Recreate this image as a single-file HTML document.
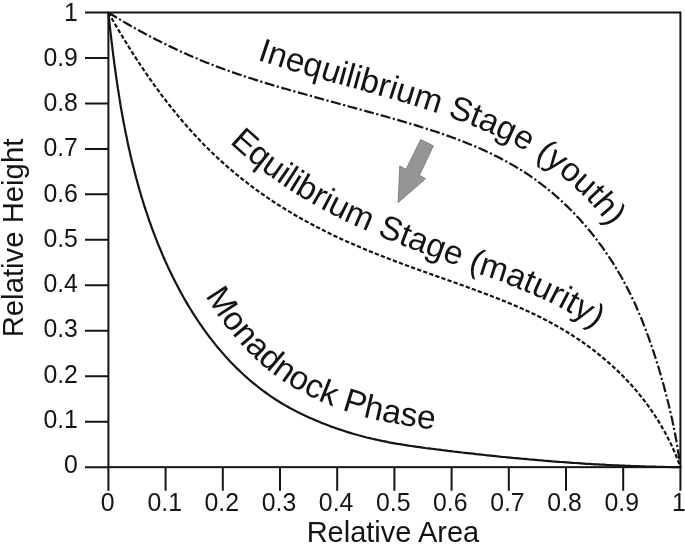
<!DOCTYPE html>
<html><head><meta charset="utf-8"><title>Hypsometric curves</title>
<style>
html,body{margin:0;padding:0;background:#fff;}
svg{display:block;}
text{font-family:"Liberation Sans",Arial,sans-serif;fill:#141414;}
.tk text{font-size:26.5px;}
.ax{font-size:29.3px;}
.cv{font-size:33.4px;}
</style></head><body>
<svg width="685" height="545" viewBox="0 0 685 545">
<rect width="685" height="545" fill="#fff"/>
<g fill="none" stroke="#141414" stroke-width="2">
<rect x="108.4" y="12.5" width="572.0" height="454.65"/>
<path d="M108.40,467.15 V490.8 M108.4,467.15 H85.0 M165.60,467.15 V490.8 M108.4,421.68 H85.0 M222.80,467.15 V490.8 M108.4,376.22 H85.0 M280.00,467.15 V490.8 M108.4,330.75 H85.0 M337.20,467.15 V490.8 M108.4,285.29 H85.0 M394.40,467.15 V490.8 M108.4,239.82 H85.0 M451.60,467.15 V490.8 M108.4,194.36 H85.0 M508.80,467.15 V490.8 M108.4,148.90 H85.0 M566.00,467.15 V490.8 M108.4,103.43 H85.0 M623.20,467.15 V490.8 M108.4,57.96 H85.0 M680.40,467.15 V490.8 M108.4,12.50 H85.0"/>
<path d="M108.4,12.5 L108.7,15.3 L109.0,18.2 L109.3,21.0 L109.6,23.8 L109.9,26.6 L110.2,29.5 L110.5,32.3 L110.9,35.1 L111.2,38.0 L111.5,40.8 L111.9,43.6 L112.2,46.4 L112.5,49.3 L112.9,52.1 L113.2,54.9 L113.6,57.7 L114.0,60.6 L114.3,63.4 L114.7,66.2 L115.1,69.0 L115.5,71.8 L115.9,74.7 L116.3,77.5 L116.7,80.3 L117.1,83.1 L117.5,85.9 L117.9,88.7 L118.4,91.5 L118.8,94.3 L119.3,97.2 L119.7,100.0 L120.2,102.8 L120.6,105.6 L121.1,108.4 L121.6,111.2 L122.1,114.0 L122.6,116.8 L123.1,119.5 L123.6,122.3 L124.2,125.1 L124.7,127.9 L125.3,130.7 L125.8,133.5 L126.4,136.3 L127.0,139.0 L127.5,141.8 L128.1,144.6 L128.7,147.4 L129.4,150.1 L130.0,152.9 L130.6,155.7 L131.3,158.4 L131.9,161.2 L132.6,163.9 L133.3,166.7 L134.0,169.4 L134.7,172.2 L135.4,174.9 L136.1,177.7 L136.9,180.4 L137.6,183.1 L138.4,185.9 L139.1,188.6 L139.9,191.3 L140.7,194.0 L141.5,196.8 L142.4,199.5 L143.2,202.2 L144.0,204.9 L144.9,207.6 L145.8,210.3 L146.7,213.0 L147.6,215.7 L148.5,218.4 L149.4,221.1 L150.4,223.7 L151.3,226.4 L152.3,229.1 L153.3,231.8 L154.3,234.4 L155.3,237.1 L156.4,239.8 L157.4,242.4 L158.5,245.1 L159.6,247.7 L160.7,250.3 L161.8,253.0 L162.9,255.6 L164.0,258.2 L165.2,260.9 L166.4,263.5 L167.6,266.1 L168.8,268.7 L170.0,271.3 L171.3,273.8 L172.5,276.4 L173.8,279.0 L175.1,281.5 L176.4,284.1 L177.7,286.6 L179.1,289.2 L180.4,291.7 L181.8,294.2 L183.2,296.7 L184.6,299.2 L186.0,301.6 L187.5,304.1 L188.9,306.6 L190.4,309.0 L191.9,311.4 L193.4,313.8 L195.0,316.2 L196.5,318.6 L198.1,321.0 L199.7,323.3 L201.3,325.7 L202.9,328.0 L204.6,330.3 L206.2,332.6 L207.9,334.9 L209.6,337.2 L211.4,339.4 L213.1,341.6 L214.9,343.9 L216.6,346.1 L218.4,348.2 L220.3,350.4 L222.1,352.5 L224.0,354.6 L225.8,356.8 L227.7,358.8 L229.7,360.9 L231.6,362.9 L233.6,365.0 L235.5,367.0 L237.5,368.9 L239.6,370.9 L241.6,372.8 L243.7,374.7 L245.8,376.6 L247.9,378.5 L250.0,380.3 L252.1,382.1 L254.3,383.9 L256.5,385.7 L258.7,387.5 L260.9,389.2 L263.2,390.9 L265.5,392.5 L267.8,394.2 L270.1,395.8 L272.4,397.4 L274.8,399.0 L277.2,400.5 L279.6,402.0 L282.0,403.5 L284.5,404.9 L286.9,406.3 L289.4,407.7 L291.9,409.1 L294.5,410.4 L297.0,411.8 L299.6,413.0 L302.2,414.3 L304.8,415.5 L307.4,416.8 L310.0,417.9 L312.7,419.1 L315.3,420.2 L318.0,421.3 L320.6,422.4 L323.3,423.5 L326.0,424.5 L328.6,425.6 L331.3,426.6 L334.0,427.5 L336.7,428.5 L339.4,429.4 L342.1,430.3 L344.9,431.2 L347.6,432.1 L350.3,432.9 L353.0,433.7 L355.8,434.5 L358.5,435.3 L361.2,436.0 L364.0,436.8 L366.7,437.5 L369.5,438.1 L372.3,438.8 L375.0,439.4 L377.8,440.0 L380.6,440.6 L383.3,441.2 L386.1,441.7 L388.9,442.3 L391.7,442.8 L394.5,443.3 L397.3,443.8 L400.0,444.2 L402.8,444.7 L405.6,445.1 L408.4,445.6 L411.2,446.0 L414.0,446.4 L416.9,446.8 L419.7,447.2 L422.5,447.6 L425.3,448.0 L428.1,448.3 L430.9,448.7 L433.7,449.0 L436.5,449.4 L439.4,449.7 L442.2,450.1 L445.0,450.4 L447.8,450.8 L450.6,451.1 L453.5,451.5 L456.3,451.8 L459.1,452.1 L461.9,452.5 L464.8,452.8 L467.6,453.1 L470.4,453.4 L473.2,453.7 L476.1,454.1 L478.9,454.4 L481.7,454.7 L484.5,455.0 L487.4,455.3 L490.2,455.6 L493.0,455.9 L495.9,456.2 L498.7,456.5 L501.5,456.8 L504.4,457.0 L507.2,457.3 L510.0,457.6 L512.9,457.9 L515.7,458.1 L518.5,458.4 L521.4,458.7 L524.2,458.9 L527.0,459.2 L529.9,459.5 L532.7,459.7 L535.5,459.9 L538.4,460.2 L541.2,460.4 L544.0,460.7 L546.9,460.9 L549.7,461.1 L552.6,461.4 L555.4,461.6 L558.2,461.8 L561.1,462.0 L563.9,462.2 L566.8,462.4 L569.6,462.6 L572.4,462.8 L575.3,463.0 L578.1,463.2 L581.0,463.4 L583.8,463.6 L586.6,463.8 L589.5,463.9 L592.3,464.1 L595.2,464.3 L598.0,464.4 L600.8,464.6 L603.7,464.7 L606.5,464.9 L609.4,465.0 L612.2,465.2 L615.1,465.3 L617.9,465.4 L620.7,465.6 L623.6,465.7 L626.4,465.8 L629.3,465.9 L632.1,466.0 L634.9,466.1 L637.8,466.2 L640.6,466.3 L643.5,466.4 L646.3,466.5 L649.2,466.6 L652.0,466.7 L654.8,466.7 L657.7,466.8 L660.5,466.9 L663.4,466.9 L666.2,467.0 L669.0,467.0 L671.9,467.1 L674.7,467.1 L677.6,467.1 L680.4,467.2" stroke-width="2.2"/>
<path d="M108.4,12.5 L109.6,14.7 L110.9,16.9 L112.1,19.0 L113.4,21.2 L114.6,23.4 L115.9,25.6 L117.2,27.7 L118.4,29.9 L119.7,32.1 L121.0,34.2 L122.3,36.4 L123.6,38.6 L124.9,40.7 L126.3,42.9 L127.6,45.0 L128.9,47.2 L130.3,49.3 L131.6,51.5 L133.0,53.6 L134.3,55.7 L135.7,57.8 L137.1,60.0 L138.5,62.1 L139.9,64.2 L141.3,66.3 L142.7,68.4 L144.1,70.5 L145.5,72.6 L147.0,74.7 L148.4,76.8 L149.9,78.9 L151.3,80.9 L152.8,83.0 L154.3,85.1 L155.8,87.1 L157.3,89.2 L158.8,91.2 L160.3,93.2 L161.8,95.3 L163.3,97.3 L164.8,99.3 L166.4,101.3 L167.9,103.3 L169.5,105.3 L171.1,107.3 L172.7,109.3 L174.3,111.2 L175.9,113.2 L177.5,115.1 L179.1,117.1 L180.7,119.0 L182.3,121.0 L184.0,122.9 L185.7,124.8 L187.3,126.7 L189.0,128.6 L190.7,130.5 L192.4,132.3 L194.1,134.2 L195.8,136.0 L197.5,137.9 L199.3,139.7 L201.0,141.6 L202.8,143.4 L204.5,145.2 L206.3,147.0 L208.1,148.7 L209.9,150.5 L211.7,152.3 L213.5,154.0 L215.3,155.8 L217.2,157.5 L219.0,159.2 L220.9,160.9 L222.8,162.6 L224.6,164.3 L226.5,165.9 L228.4,167.6 L230.3,169.2 L232.3,170.9 L234.2,172.5 L236.1,174.1 L238.1,175.7 L240.0,177.3 L242.0,178.9 L244.0,180.4 L246.0,182.0 L248.0,183.5 L250.0,185.1 L252.0,186.6 L254.0,188.1 L256.0,189.6 L258.1,191.1 L260.1,192.5 L262.2,194.0 L264.3,195.4 L266.3,196.9 L268.4,198.3 L270.5,199.7 L272.6,201.1 L274.7,202.5 L276.8,203.9 L279.0,205.3 L281.1,206.6 L283.2,207.9 L285.4,209.3 L287.5,210.6 L289.7,211.9 L291.8,213.2 L294.0,214.5 L296.2,215.8 L298.4,217.0 L300.6,218.3 L302.8,219.5 L305.0,220.7 L307.2,221.9 L309.4,223.1 L311.7,224.3 L313.9,225.5 L316.1,226.7 L318.4,227.8 L320.6,229.0 L322.9,230.1 L325.1,231.2 L327.4,232.4 L329.7,233.5 L331.9,234.6 L334.2,235.7 L336.5,236.7 L338.8,237.8 L341.1,238.9 L343.4,239.9 L345.7,241.0 L348.0,242.0 L350.3,243.0 L352.6,244.0 L355.0,245.0 L357.3,246.0 L359.6,247.0 L361.9,248.0 L364.3,249.0 L366.6,250.0 L369.0,250.9 L371.3,251.9 L373.7,252.8 L376.0,253.8 L378.4,254.7 L380.7,255.6 L383.1,256.6 L385.4,257.5 L387.8,258.4 L390.1,259.3 L392.5,260.2 L394.9,261.1 L397.2,262.0 L399.6,262.8 L402.0,263.7 L404.4,264.6 L406.7,265.5 L409.1,266.3 L411.5,267.2 L413.9,268.1 L416.2,268.9 L418.6,269.8 L421.0,270.6 L423.4,271.5 L425.8,272.3 L428.2,273.2 L430.5,274.0 L432.9,274.9 L435.3,275.7 L437.7,276.6 L440.1,277.4 L442.5,278.2 L444.8,279.1 L447.2,279.9 L449.6,280.8 L452.0,281.6 L454.4,282.5 L456.8,283.3 L459.1,284.2 L461.5,285.0 L463.9,285.9 L466.3,286.7 L468.7,287.6 L471.1,288.5 L473.4,289.3 L475.8,290.2 L478.2,291.1 L480.6,292.0 L482.9,292.9 L485.3,293.7 L487.7,294.6 L490.0,295.5 L492.4,296.5 L494.8,297.4 L497.1,298.3 L499.5,299.2 L501.8,300.2 L504.2,301.1 L506.5,302.1 L508.9,303.0 L511.2,304.0 L513.5,305.0 L515.9,306.0 L518.2,307.0 L520.5,308.0 L522.8,309.0 L525.1,310.0 L527.4,311.1 L529.7,312.1 L532.0,313.2 L534.3,314.3 L536.5,315.4 L538.8,316.5 L541.1,317.6 L543.3,318.8 L545.6,319.9 L547.8,321.1 L550.0,322.3 L552.2,323.5 L554.4,324.7 L556.6,325.9 L558.8,327.2 L561.0,328.4 L563.2,329.7 L565.3,331.0 L567.5,332.3 L569.6,333.7 L571.8,335.0 L573.9,336.4 L576.0,337.7 L578.1,339.1 L580.2,340.6 L582.3,342.0 L584.3,343.4 L586.4,344.9 L588.4,346.4 L590.5,347.9 L592.5,349.4 L594.5,351.0 L596.5,352.5 L598.4,354.1 L600.4,355.7 L602.3,357.3 L604.3,358.9 L606.2,360.5 L608.1,362.2 L610.0,363.8 L611.9,365.5 L613.7,367.2 L615.6,368.9 L617.4,370.6 L619.2,372.4 L621.0,374.2 L622.8,375.9 L624.5,377.7 L626.3,379.6 L628.0,381.4 L629.7,383.2 L631.4,385.1 L633.1,387.0 L634.7,388.9 L636.4,390.8 L638.0,392.7 L639.6,394.7 L641.2,396.6 L642.7,398.6 L644.3,400.6 L645.8,402.6 L647.3,404.6 L648.8,406.7 L650.2,408.7 L651.7,410.8 L653.1,412.9 L654.5,415.0 L655.9,417.1 L657.2,419.2 L658.6,421.4 L659.9,423.5 L661.2,425.7 L662.4,427.9 L663.7,430.1 L664.9,432.3 L666.1,434.5 L667.3,436.8 L668.4,439.0 L669.6,441.3 L670.7,443.6 L671.8,445.9 L672.8,448.2 L673.9,450.5 L674.9,452.9 L675.9,455.2 L676.8,457.6 L677.7,460.0 L678.7,462.3 L679.5,464.7 L680.4,467.2" stroke-width="2.2" stroke-dasharray="4.3 2.15"/>
<path d="M108.4,12.5 L110.7,13.9 L112.9,15.3 L115.2,16.7 L117.5,18.1 L119.7,19.4 L122.0,20.8 L124.3,22.1 L126.6,23.5 L128.9,24.8 L131.2,26.1 L133.5,27.4 L135.8,28.7 L138.1,30.0 L140.4,31.3 L142.8,32.5 L145.1,33.8 L147.4,35.0 L149.8,36.3 L152.1,37.5 L154.5,38.7 L156.8,39.9 L159.2,41.1 L161.6,42.3 L163.9,43.5 L166.3,44.6 L168.7,45.8 L171.1,46.9 L173.5,48.1 L175.8,49.2 L178.2,50.3 L180.7,51.4 L183.1,52.5 L185.5,53.6 L187.9,54.7 L190.3,55.7 L192.7,56.8 L195.2,57.8 L197.6,58.8 L200.0,59.9 L202.5,60.9 L204.9,61.9 L207.4,62.9 L209.9,63.8 L212.3,64.8 L214.8,65.7 L217.3,66.7 L219.7,67.6 L222.2,68.5 L224.7,69.5 L227.2,70.4 L229.7,71.2 L232.2,72.1 L234.7,73.0 L237.2,73.9 L239.7,74.7 L242.2,75.5 L244.7,76.4 L247.2,77.2 L249.7,78.0 L252.3,78.8 L254.8,79.6 L257.3,80.4 L259.9,81.2 L262.4,82.0 L264.9,82.8 L267.5,83.6 L270.0,84.3 L272.5,85.1 L275.1,85.8 L277.6,86.6 L280.2,87.3 L282.7,88.1 L285.3,88.8 L287.8,89.5 L290.4,90.2 L292.9,91.0 L295.5,91.7 L298.0,92.4 L300.6,93.1 L303.2,93.8 L305.7,94.5 L308.3,95.2 L310.8,95.9 L313.4,96.7 L315.9,97.4 L318.5,98.1 L321.1,98.8 L323.6,99.5 L326.2,100.2 L328.7,100.9 L331.3,101.6 L333.8,102.3 L336.4,103.0 L339.0,103.7 L341.5,104.4 L344.1,105.1 L346.6,105.8 L349.2,106.5 L351.7,107.2 L354.3,107.9 L356.8,108.6 L359.4,109.3 L361.9,110.0 L364.5,110.7 L367.0,111.4 L369.5,112.1 L372.1,112.8 L374.6,113.5 L377.2,114.2 L379.7,114.9 L382.3,115.6 L384.8,116.3 L387.3,117.0 L389.9,117.7 L392.4,118.4 L394.9,119.2 L397.5,119.9 L400.0,120.6 L402.5,121.4 L405.1,122.1 L407.6,122.8 L410.1,123.6 L412.7,124.3 L415.2,125.1 L417.7,125.9 L420.2,126.7 L422.8,127.5 L425.3,128.3 L427.8,129.1 L430.4,129.9 L432.9,130.7 L435.4,131.5 L437.9,132.4 L440.5,133.3 L443.0,134.1 L445.5,135.0 L448.0,135.9 L450.5,136.8 L453.0,137.7 L455.5,138.6 L458.0,139.6 L460.5,140.5 L463.0,141.5 L465.5,142.5 L467.9,143.5 L470.4,144.5 L472.9,145.5 L475.3,146.5 L477.8,147.6 L480.2,148.6 L482.6,149.7 L485.0,150.8 L487.5,151.9 L489.9,153.1 L492.3,154.2 L494.6,155.4 L497.0,156.6 L499.4,157.8 L501.7,159.0 L504.1,160.2 L506.4,161.5 L508.7,162.8 L511.0,164.1 L513.3,165.4 L515.6,166.7 L517.8,168.1 L520.1,169.5 L522.3,170.9 L524.6,172.3 L526.8,173.7 L529.0,175.2 L531.1,176.7 L533.3,178.2 L535.5,179.7 L537.6,181.3 L539.7,182.9 L541.8,184.5 L543.9,186.1 L546.0,187.7 L548.0,189.4 L550.1,191.0 L552.1,192.7 L554.1,194.4 L556.1,196.2 L558.1,197.9 L560.0,199.7 L562.0,201.5 L563.9,203.3 L565.8,205.1 L567.7,206.9 L569.6,208.8 L571.5,210.6 L573.3,212.5 L575.2,214.4 L577.0,216.4 L578.8,218.3 L580.6,220.3 L582.3,222.2 L584.1,224.2 L585.8,226.2 L587.5,228.2 L589.2,230.3 L590.9,232.3 L592.6,234.4 L594.2,236.5 L595.8,238.5 L597.5,240.7 L599.0,242.8 L600.6,244.9 L602.2,247.0 L603.7,249.2 L605.2,251.4 L606.7,253.6 L608.2,255.8 L609.7,258.0 L611.1,260.2 L612.6,262.4 L614.0,264.7 L615.4,266.9 L616.8,269.2 L618.1,271.5 L619.4,273.7 L620.8,276.0 L622.1,278.3 L623.4,280.7 L624.6,283.0 L625.9,285.3 L627.1,287.7 L628.3,290.0 L629.5,292.4 L630.7,294.8 L631.8,297.2 L632.9,299.5 L634.1,301.9 L635.2,304.3 L636.3,306.8 L637.3,309.2 L638.4,311.6 L639.4,314.1 L640.5,316.5 L641.5,318.9 L642.5,321.4 L643.4,323.9 L644.4,326.3 L645.4,328.8 L646.3,331.3 L647.2,333.8 L648.2,336.3 L649.1,338.8 L649.9,341.3 L650.8,343.8 L651.7,346.3 L652.5,348.8 L653.4,351.3 L654.2,353.8 L655.0,356.3 L655.8,358.9 L656.6,361.4 L657.4,363.9 L658.2,366.5 L659.0,369.0 L659.7,371.5 L660.5,374.1 L661.2,376.6 L661.9,379.2 L662.6,381.7 L663.4,384.3 L664.1,386.8 L664.7,389.4 L665.4,391.9 L666.1,394.5 L666.8,397.1 L667.4,399.6 L668.1,402.2 L668.7,404.7 L669.3,407.3 L669.9,409.9 L670.5,412.5 L671.1,415.0 L671.7,417.6 L672.3,420.2 L672.8,422.8 L673.4,425.4 L673.9,428.0 L674.4,430.5 L674.9,433.1 L675.4,435.7 L675.9,438.3 L676.4,440.9 L676.8,443.5 L677.3,446.2 L677.7,448.8 L678.1,451.4 L678.6,454.0 L678.9,456.6 L679.3,459.3 L679.7,461.9 L680.1,464.5 L680.4,467.2" stroke-width="2.2" stroke-dasharray="10 2.5 2.2 2.5"/>
</g>
<defs>
<path id="p1" d="M243.5,55.4 L245.9,56.2 L248.4,57.1 L250.8,57.9 L253.3,58.7 L255.7,59.5 L258.2,60.3 L260.7,61.0 L263.1,61.8 L265.6,62.6 L268.1,63.4 L270.6,64.2 L273.1,64.9 L275.6,65.7 L278.1,66.5 L280.6,67.2 L283.1,68.0 L285.6,68.7 L288.1,69.5 L290.6,70.2 L293.1,71.0 L295.6,71.7 L298.2,72.5 L300.7,73.2 L303.2,73.9 L305.7,74.7 L308.3,75.4 L310.8,76.1 L313.4,76.8 L315.9,77.6 L318.4,78.3 L321.0,79.0 L323.5,79.7 L326.1,80.4 L328.6,81.2 L331.2,81.9 L333.7,82.6 L336.3,83.3 L338.8,84.1 L341.4,84.8 L343.9,85.5 L346.5,86.2 L349.0,86.9 L351.6,87.7 L354.1,88.4 L356.7,89.1 L359.2,89.8 L361.8,90.6 L364.3,91.3 L366.9,92.0 L369.4,92.7 L372.0,93.4 L374.5,94.2 L377.0,94.9 L379.6,95.6 L382.1,96.3 L384.7,97.1 L387.2,97.8 L389.8,98.5 L392.3,99.3 L394.9,100.0 L397.4,100.7 L400.0,101.5 L402.5,102.2 L405.1,103.0 L407.6,103.8 L410.2,104.5 L412.8,105.3 L415.3,106.1 L417.9,106.9 L420.5,107.7 L423.1,108.5 L425.6,109.3 L428.2,110.2 L430.8,111.0 L433.4,111.8 L436.0,112.7 L438.5,113.6 L441.1,114.4 L443.7,115.3 L446.3,116.2 L448.9,117.1 L451.5,118.0 L454.1,118.9 L456.7,119.8 L459.3,120.7 L461.8,121.7 L464.4,122.6 L467.0,123.6 L469.6,124.6 L472.2,125.6 L474.8,126.6 L477.3,127.7 L479.9,128.7 L482.5,129.8 L485.0,130.9 L487.6,132.0 L490.1,133.1 L492.7,134.2 L495.2,135.4 L497.7,136.6 L500.2,137.8 L502.8,139.0 L505.3,140.2 L507.8,141.5 L510.2,142.8 L512.7,144.1 L515.2,145.4 L517.7,146.7 L520.1,148.1 L522.6,149.5 L525.0,150.9 L527.4,152.3 L529.8,153.8 L532.2,155.3 L534.6,156.8 L537.0,158.3 L539.3,159.9 L541.7,161.5 L544.0,163.1 L546.3,164.7 L548.6,166.3 L550.8,168.0 L553.1,169.7 L555.3,171.4 L557.5,173.2 L559.7,174.9 L561.9,176.7 L564.1,178.5 L566.2,180.3 L568.4,182.1 L570.5,184.0 L572.6,185.9 L574.7,187.7 L576.7,189.7 L578.8,191.6 L580.8,193.5 L582.8,195.5 L584.8,197.5 L586.8,199.5 L588.7,201.5 L590.7,203.5 L592.6,205.6 L594.5,207.7 L596.4,209.8 L598.2,211.9 L600.1,214.0 L601.9,216.1 L603.7,218.3 L605.5,220.4 L607.3,222.6 L609.0,224.8 L610.8,227.0 L612.5,229.2 L614.2,231.5 L615.9,233.7 L617.5,236.0 L619.2,238.3 L620.8,240.6 L622.4,242.9 L624.0,245.2 L625.5,247.5 L627.1,249.9 L628.6,252.2 L630.1,254.6 L631.6,257.0 L633.0,259.4 L634.5,261.8 L635.9,264.2 L637.3,266.6 L638.7,269.1 L640.0,271.5 L641.4,274.0 L642.7,276.5 L644.0,278.9 L645.2,281.4 L646.5,283.9 L647.7,286.4 L648.9,288.9 L650.1,291.4 L651.3,294.0 L652.5,296.5 L653.6,299.0 L654.7,301.5 L655.8,304.1 L656.9,306.6 L658.0,309.2 L659.1,311.7 L660.1,314.3 L661.1,316.9 L662.1,319.4 L663.1,322.0 L664.1,324.6 L665.1,327.2 L666.0,329.8 L666.9,332.3 L667.9,334.9 L668.8,337.5 L669.7,340.1 L670.5,342.7 L671.4,345.3 L672.3,347.9 L673.1,350.5 L673.9,353.1 L674.8,355.7 L675.6,358.3 L676.4,360.9 L677.2,363.6 L677.9,366.2"/>
<path id="p2" d="M214.8,128.2 L216.5,130.0 L218.2,131.7 L219.9,133.4 L221.6,135.1 L223.3,136.8 L225.0,138.5 L226.8,140.1 L228.5,141.8 L230.3,143.4 L232.0,145.1 L233.8,146.7 L235.6,148.3 L237.4,149.9 L239.2,151.5 L241.0,153.1 L242.8,154.7 L244.7,156.2 L246.5,157.8 L248.3,159.3 L250.2,160.9 L252.0,162.4 L253.9,163.9 L255.8,165.4 L257.7,166.9 L259.6,168.4 L261.5,169.9 L263.4,171.4 L265.3,172.8 L267.2,174.3 L269.2,175.7 L271.1,177.2 L273.1,178.6 L275.0,180.0 L277.0,181.4 L279.0,182.8 L281.0,184.1 L283.0,185.5 L285.0,186.8 L287.0,188.2 L289.0,189.5 L291.1,190.8 L293.1,192.1 L295.1,193.4 L297.2,194.7 L299.3,196.0 L301.3,197.3 L303.4,198.5 L305.5,199.7 L307.6,201.0 L309.7,202.2 L311.8,203.4 L313.9,204.6 L316.0,205.8 L318.1,207.0 L320.3,208.1 L322.4,209.3 L324.5,210.4 L326.7,211.6 L328.9,212.7 L331.0,213.8 L333.2,215.0 L335.4,216.1 L337.6,217.1 L339.8,218.2 L342.0,219.3 L344.2,220.4 L346.4,221.4 L348.6,222.5 L350.8,223.5 L353.1,224.6 L355.3,225.6 L357.6,226.6 L359.8,227.6 L362.1,228.6 L364.3,229.6 L366.6,230.6 L368.8,231.6 L371.1,232.6 L373.4,233.6 L375.7,234.5 L378.0,235.5 L380.2,236.4 L382.5,237.4 L384.8,238.3 L387.1,239.3 L389.4,240.2 L391.7,241.1 L394.1,242.0 L396.4,243.0 L398.7,243.9 L401.0,244.8 L403.3,245.7 L405.7,246.6 L408.0,247.5 L410.3,248.3 L412.7,249.2 L415.0,250.1 L417.4,251.0 L419.7,251.9 L422.1,252.7 L424.4,253.6 L426.8,254.5 L429.1,255.4 L431.5,256.2 L433.9,257.1 L436.2,258.0 L438.6,258.8 L441.0,259.7 L443.3,260.6 L445.7,261.4 L448.1,262.3 L450.5,263.2 L452.9,264.0 L455.2,264.9 L457.6,265.8 L460.0,266.7 L462.4,267.5 L464.8,268.4 L467.2,269.3 L469.6,270.2 L472.0,271.1 L474.3,272.0 L476.7,272.9 L479.1,273.8 L481.5,274.7 L483.9,275.6 L486.3,276.5 L488.7,277.4 L491.2,278.2 L493.6,279.1 L496.0,280.0 L498.4,280.9 L500.8,281.8 L503.3,282.7 L505.7,283.6 L508.1,284.5 L510.5,285.4 L512.9,286.4 L515.4,287.3 L517.8,288.3 L520.2,289.3 L522.6,290.3 L525.0,291.3 L527.4,292.3 L529.8,293.3 L532.2,294.3 L534.6,295.4 L537.0,296.4 L539.4,297.5 L541.8,298.6 L544.2,299.7 L546.5,300.8 L548.9,302.0 L551.3,303.1 L553.6,304.3 L556.0,305.5 L558.4,306.7 L560.7,307.9 L563.0,309.2 L565.4,310.4 L567.7,311.7 L570.0,313.0 L572.3,314.3 L574.6,315.7 L576.9,317.0 L579.2,318.4 L581.5,319.8 L583.7,321.2 L586.0,322.6 L588.2,324.1 L590.5,325.6 L592.7,327.1 L594.9,328.6 L597.1,330.1 L599.3,331.6 L601.4,333.2 L603.6,334.8 L605.7,336.4 L607.9,338.0 L610.0,339.6 L612.1,341.3 L614.1,343.0 L616.2,344.7 L618.2,346.5 L620.3,348.2 L622.3,350.0 L624.3,351.8 L626.3,353.6 L628.2,355.4 L630.2,357.3 L632.1,359.1 L634.0,361.0 L635.9,362.9 L637.8,364.9 L639.7,366.8 L641.5,368.8 L643.3,370.7 L645.2,372.7 L646.9,374.7 L648.7,376.8 L650.5,378.8 L652.2,380.9 L653.9,383.0"/>
<path id="p3" d="M197.6,282.3 L198.9,284.7 L200.3,287.1 L201.6,289.4 L203.0,291.8 L204.3,294.1 L205.7,296.4 L207.1,298.8 L208.5,301.0 L210.0,303.3 L211.4,305.6 L212.9,307.9 L214.4,310.1 L215.9,312.3 L217.4,314.5 L218.9,316.7 L220.5,318.9 L222.0,321.1 L223.6,323.2 L225.2,325.3 L226.8,327.4 L228.5,329.5 L230.1,331.6 L231.8,333.6 L233.5,335.7 L235.2,337.7 L236.9,339.7 L238.6,341.7 L240.4,343.6 L242.1,345.6 L243.9,347.5 L245.7,349.4 L247.5,351.3 L249.4,353.1 L251.2,354.9 L253.1,356.8 L255.0,358.5 L256.9,360.3 L258.8,362.1 L260.7,363.8 L262.7,365.5 L264.7,367.2 L266.7,368.8 L268.7,370.4 L270.7,372.0 L272.8,373.6 L274.8,375.2 L276.9,376.7 L279.0,378.2 L281.1,379.7 L283.3,381.2 L285.5,382.6 L287.6,384.0 L289.8,385.4 L292.1,386.7 L294.3,388.1 L296.6,389.4 L298.8,390.6 L301.2,391.9 L303.5,393.1 L305.9,394.4 L308.2,395.6 L310.6,396.7 L313.1,397.9 L315.5,399.0 L318.0,400.1 L320.4,401.2 L322.9,402.3 L325.4,403.3 L327.9,404.4 L330.5,405.4 L333.0,406.4 L335.5,407.3 L338.1,408.3 L340.6,409.2 L343.1,410.1 L345.7,411.0 L348.3,411.8 L350.8,412.7 L353.4,413.5 L355.9,414.3 L358.5,415.0 L361.1,415.8 L363.7,416.5 L366.3,417.2 L368.8,417.9 L371.4,418.6 L374.0,419.2 L376.6,419.8 L379.3,420.4 L381.9,421.0 L384.5,421.6 L387.2,422.1 L389.8,422.6 L392.5,423.1 L395.2,423.6 L397.8,424.1 L400.5,424.6 L403.2,425.1 L405.9,425.5 L408.6,425.9 L411.4,426.3 L414.1,426.8 L416.8,427.2 L419.6,427.6 L422.3,427.9 L425.1,428.3 L427.8,428.7 L430.6,429.1 L433.4,429.4 L436.2,429.8 L439.0,430.1 L441.8,430.5 L444.6,430.8 L447.4,431.2 L450.2,431.5 L453.0,431.8 L455.8,432.2 L458.6,432.5 L461.4,432.9 L464.2,433.2 L467.0,433.5 L469.8,433.8"/>
</defs>
<polygon points="420.7,139.5 433.4,145.8 419.5,175.2 425.6,178.7 398.2,202.6 399.7,166 406,169.3" fill="#959595" stroke="#727272" stroke-width="0.8"/>
<g class="tk">
<text transform="translate(107.6,510.9) scale(0.936,1)" text-anchor="middle">0</text>
<text transform="translate(77.9,473.1) scale(0.936,1)" text-anchor="end">0</text>
<text transform="translate(164.7,510.9) scale(0.936,1)" text-anchor="middle">0.1</text>
<text transform="translate(77.9,427.9) scale(0.936,1)" text-anchor="end">0.1</text>
<text transform="translate(221.8,510.9) scale(0.936,1)" text-anchor="middle">0.2</text>
<text transform="translate(77.9,382.6) scale(0.936,1)" text-anchor="end">0.2</text>
<text transform="translate(279.0,510.9) scale(0.936,1)" text-anchor="middle">0.3</text>
<text transform="translate(77.9,337.4) scale(0.936,1)" text-anchor="end">0.3</text>
<text transform="translate(336.1,510.9) scale(0.936,1)" text-anchor="middle">0.4</text>
<text transform="translate(77.9,292.1) scale(0.936,1)" text-anchor="end">0.4</text>
<text transform="translate(393.2,510.9) scale(0.936,1)" text-anchor="middle">0.5</text>
<text transform="translate(77.9,246.9) scale(0.936,1)" text-anchor="end">0.5</text>
<text transform="translate(450.3,510.9) scale(0.936,1)" text-anchor="middle">0.6</text>
<text transform="translate(77.9,201.6) scale(0.936,1)" text-anchor="end">0.6</text>
<text transform="translate(507.4,510.9) scale(0.936,1)" text-anchor="middle">0.7</text>
<text transform="translate(77.9,156.4) scale(0.936,1)" text-anchor="end">0.7</text>
<text transform="translate(564.6,510.9) scale(0.936,1)" text-anchor="middle">0.8</text>
<text transform="translate(77.9,111.1) scale(0.936,1)" text-anchor="end">0.8</text>
<text transform="translate(621.7,510.9) scale(0.936,1)" text-anchor="middle">0.9</text>
<text transform="translate(77.9,65.9) scale(0.936,1)" text-anchor="end">0.9</text>
<text transform="translate(678.8,510.9) scale(0.936,1)" text-anchor="middle">1</text>
<text transform="translate(77.9,20.6) scale(0.936,1)" text-anchor="end">1</text>
</g>
<text class="ax" style="font-size:30px" transform="translate(392.9,542.2) scale(0.967,1)" text-anchor="middle">Relative Area</text>
<text class="ax" style="font-size:30.2px" transform="translate(23.1,238.0) rotate(-90) scale(0.97,1)" text-anchor="middle">Relative Height</text>
<text class="cv"><textPath href="#p1" startOffset="14">Inequilibrium Stage (youth)</textPath></text>
<text class="cv" style="letter-spacing:0.05px"><textPath href="#p2" startOffset="20.5">Equilibrium Stage (maturity)</textPath></text>
<text class="cv"><textPath href="#p3" startOffset="15.3">Monadnock Phase</textPath></text>
</svg>
</body></html>
